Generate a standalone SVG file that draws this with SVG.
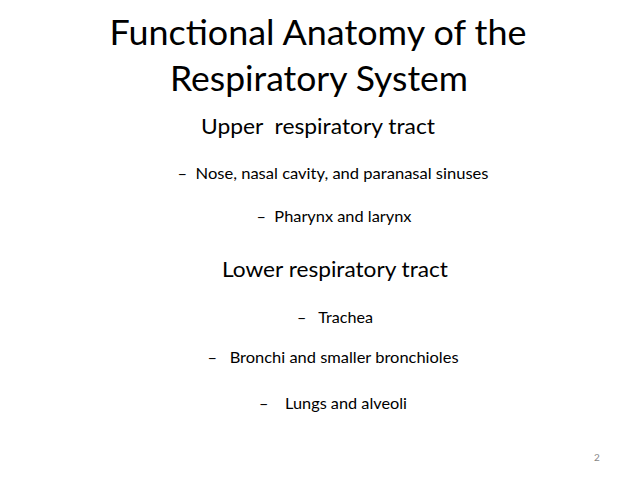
<svg xmlns="http://www.w3.org/2000/svg" width="638" height="478" viewBox="0 0 638 478" xml:space="preserve">
<style>
text{font-family:Lato,"Open Sans",sans-serif;fill:#000;text-anchor:middle;white-space:pre}
.t{font-size:34px}
.h{font-size:21px}
.b{font-size:15px}
</style>
<rect width="638" height="478" fill="#fff"/>
<g id="title">
<text class="t" x="318" y="45" textLength="417" lengthAdjust="spacingAndGlyphs">Functional Anatomy of the</text>
<text class="t" x="319" y="91" textLength="298" lengthAdjust="spacingAndGlyphs">Respiratory System</text>
</g>
<g id="upper">
<text class="h" x="318" y="134" textLength="234" lengthAdjust="spacingAndGlyphs">Upper  respiratory tract</text>
<text class="b" x="333" y="179" textLength="311" lengthAdjust="spacingAndGlyphs">–  Nose, nasal cavity, and paranasal sinuses</text>
<text class="b" x="334" y="222" textLength="155" lengthAdjust="spacingAndGlyphs">–  Pharynx and larynx</text>
</g>
<g id="lower">
<text class="h" x="335" y="277" textLength="226" lengthAdjust="spacingAndGlyphs">Lower respiratory tract</text>
<text class="b" x="335" y="323" textLength="76" lengthAdjust="spacingAndGlyphs">–   Trachea</text>
<text class="b" x="333" y="363" textLength="251" lengthAdjust="spacingAndGlyphs">–   Bronchi and smaller bronchioles</text>
<text class="b" x="333" y="409" textLength="148" lengthAdjust="spacingAndGlyphs">–    Lungs and alveoli</text>
</g>
<text x="597" y="461" style="font-size:10px;fill:#888">2</text>
</svg>
